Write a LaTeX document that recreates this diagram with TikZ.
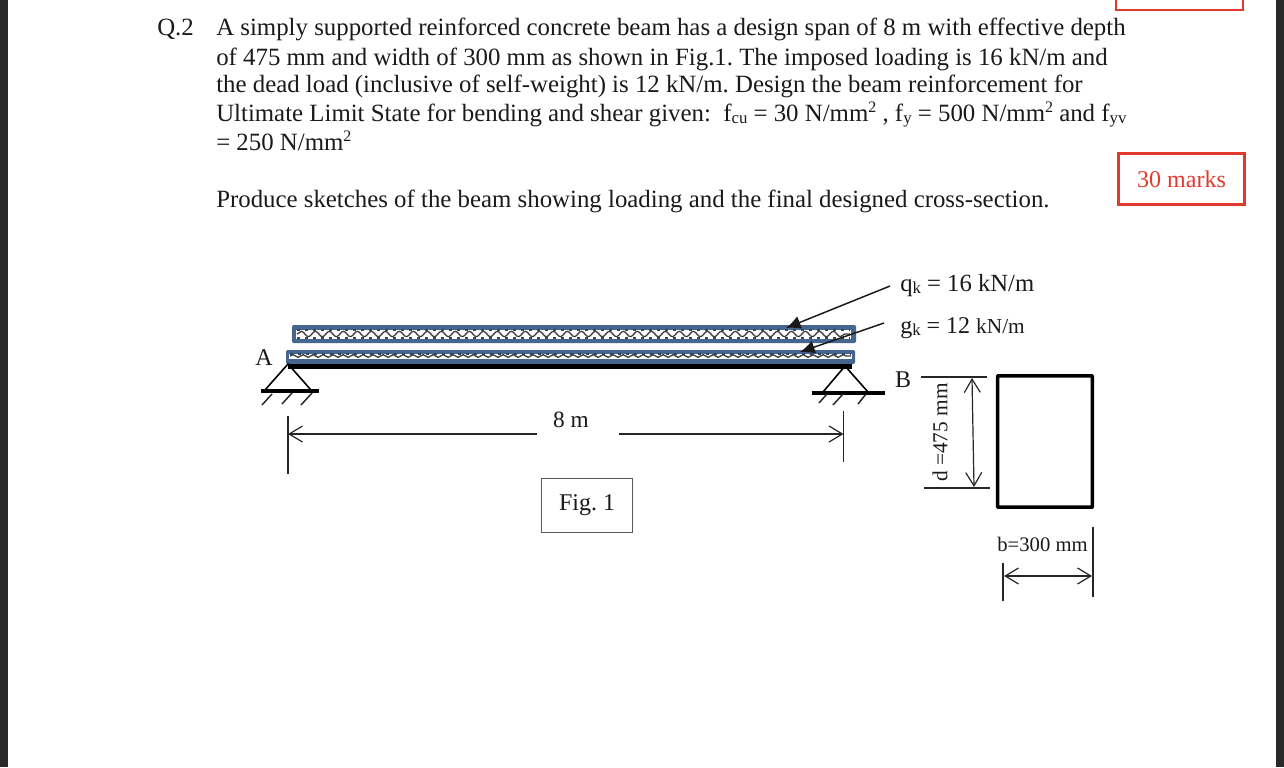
\documentclass[tikz,border=0pt]{standalone}
\usepackage{fontspec}
\setmainfont{Liberation Serif}
\usetikzlibrary{arrows.meta,decorations.pathmorphing}
\frenchspacing
\definecolor{markred}{HTML}{E2392F}
\definecolor{loadblue}{HTML}{46658F}
\definecolor{txt}{HTML}{1A1A1A}
\newcommand{\sbs}[1]{\raisebox{-0.22ex}{\fontsize{12.6pt}{14pt}\selectfont #1}}
\newcommand{\sps}[1]{\raisebox{0.75ex}{\fontsize{12pt}{14pt}\selectfont #1}}
\tikzset{
  body/.style={inner sep=0pt,anchor=base west,text=txt,font=\fontsize{18.63pt}{22pt}\selectfont},
  small/.style={inner sep=0pt,text=txt,font=\fontsize{15.5pt}{18pt}\selectfont},
  dimline/.style={draw=black!85,line width=0.9pt},
  dimarrow/.style={dimline,-{Straight Barb[length=10pt,width=12pt,line width=0.9pt]}},
  dimboth/.style={dimline,{Straight Barb[length=10pt,width=12pt,line width=0.9pt]}-{Straight Barb[length=10pt,width=12pt,line width=0.9pt]}},
  leader/.style={draw=black!90,line width=1.1pt,-{Latex[length=11pt,width=10pt]}},
  loadbox/.style={fill=loadblue,draw=none,rounded corners=1pt},
  inner/.style={fill=white,draw=none},
  wave/.style={draw=black!75,line width=1pt,decorate,decoration={snake,amplitude=#1}},
  wave/.default=2pt,
  edgedots/.style={draw=loadblue!70!black,line width=1pt,dash pattern=on 2pt off 4pt},
  ground/.style={draw=black,line width=2.6pt},
  hatch/.style={draw=black!85,line width=1.1pt},
  tri/.style={draw=black,line width=1.2pt,line join=miter},
}
\begin{document}
\begin{tikzpicture}[x=0.75pt,y=-0.75pt]
\useasboundingbox (0,0) rectangle (1284,767);
\fill[white] (0,0) rectangle (1284,767);
\fill[black!84] (0,0) rectangle (8,767);
\fill[black!84] (1276,0) rectangle (1284,767);
% question text
\node[body] (qno) at (157,36) {Q.2};
\node[body] (l1) at (216,36) {A simply supported reinforced concrete beam has a design span of 8 m with effective depth};
\node[body] (l2) at (216,65) {of 475 mm and width of 300 mm as shown in Fig.1. The imposed loading is 16 kN/m and};
\node[body] (l3) at (216,93) {the dead load (inclusive of self-weight) is 12 kN/m. Design the beam reinforcement for};
\node[body] (l4) at (216,121) {Ultimate Limit State for bending and shear given:\ \ f\sbs{cu} = 30 N/mm\sps{2} , f\sbs{y} = 500 N/mm\sps{2} and f\sbs{yv}};
\node[body] (l5) at (216,150) {= 250 N/mm\sps{2}};
\node[body] (l6) at (216,207) {Produce sketches of the beam showing loading and the final designed cross-section.};
% marks
\draw[markred,line width=2.2pt] (1116,0) -- (1116,10) -- (1243,10) -- (1243,0);
\node[draw=markred,line width=2.2pt,text=markred,minimum width=95pt,minimum height=38pt,inner sep=0pt,font=\fontsize{18pt}{20pt}\selectfont] (marks) at (1181.5,179) {30 marks};
% loads
\fill[loadbox] (292,325) rectangle (856,343);
\fill[inner] (296,329.5) rectangle (851,338.5);
\draw[wave=2pt,decoration={segment length=10.5pt}] (297,334) -- (850,334);
\draw[edgedots] (297,330) -- (850,330) (297,338) -- (850,338);
\fill[loadbox] (286,350) rectangle (855,364);
\fill[inner] (289,353.5) rectangle (852,359);
\draw[wave=1pt,decoration={segment length=7.5pt}] (290,356) -- (851,356);
\draw[edgedots] (290,354) -- (851,354);
% beam
\fill[black] (288,364) rectangle (852,368.5);
% supports
\coordinate (aT) at (288,364); \coordinate (aL) at (265,390); \coordinate (aR) at (311,390);
\draw[tri] (aL) -- (aT) -- (aR);
\coordinate (agL) at (261,391); \coordinate (agR) at (319,391);
\draw[ground] (agL) -- (agR);
\draw[hatch] (262,405) -- (272,394) (282,404) -- (292,393) (301,405) -- (312,393);
\coordinate (bT) at (845,366); \coordinate (bL) at (823,392); \coordinate (bR) at (868,392);
\draw[tri] (bL) -- (bT) -- (bR);
\coordinate (bgL) at (812,393); \coordinate (bgR) at (885,393);
\draw[ground] (bgL) -- (bgR);
\draw[hatch] (819,403) -- (827,394) (833,405) -- (843,394) (858,404) -- (866,394);
\node[font=\fontsize{18pt}{20pt}\selectfont,inner sep=0pt,text=txt] (A) at (264,358) {A};
\node[font=\fontsize{18pt}{20pt}\selectfont,inner sep=0pt,text=txt] (B) at (903,380) {B};
% span dimension
\node[font=\fontsize{17.5pt}{20pt}\selectfont,inner sep=0pt,text=txt] (span) at (571,420) {8 m};
\coordinate (sL) at (288,434); \coordinate (sLa) at (537,434);
\coordinate (sR) at (843.5,434); \coordinate (sRa) at (619,434);
\draw[dimarrow] (sLa) -- (sL);
\draw[dimarrow] (sRa) -- (sR);
\draw[dimline] (288,416) -- (288,474);
\draw[dimline] (843.5,411) -- (843.5,462);
\node[draw=black!65,line width=0.7pt,minimum width=68.5pt,minimum height=40pt,inner sep=0pt,text=txt,font=\fontsize{18pt}{20pt}\selectfont] (fig) at (587,505.5) {Fig. 1};
% load labels
\node[body,font=\fontsize{18.5pt}{20pt}\selectfont] (q) at (900,291) {q\sbs{k} = 16 kN/m};
\node[body,font=\fontsize{18pt}{20pt}\selectfont] (g) at (900,333) {g\sbs{k} = 12 {\fontsize{16pt}{20pt}\selectfont kN/m}};
\coordinate (qs) at (890,286); \coordinate (qe) at (786,328);
\coordinate (gs) at (884,323); \coordinate (ge) at (800,352);
\draw[leader] (qs) -- (qe);
\draw[leader] (gs) -- (ge);
% section
\node[draw=black,line width=2.7pt,minimum width=71pt,minimum height=98.5pt,inner sep=0pt,rounded corners=0.5pt] (sec) at (1045,441.5) {};
\draw[dimline] (921,377) -- (987,377);
\draw[dimline] (924,488) -- (990,488);
\coordinate (dT) at (972,378); \coordinate (dB) at (974,487);
\draw[dimboth] (dT) -- (dB);
\node[small,rotate=90,font=\fontsize{16pt}{18pt}\selectfont] (d) at (940,432.5) {d =475 mm};
\node[small] (b) at (1042.5,544) {b=300 mm};
\draw[dimline] (1093,527) -- (1093,597);
\draw[dimline] (1003,563) -- (1003,601);
\coordinate (bwL) at (1004,576); \coordinate (bwR) at (1092,576);
\draw[dimboth] (bwL) -- (bwR);
\end{tikzpicture}
\end{document}
